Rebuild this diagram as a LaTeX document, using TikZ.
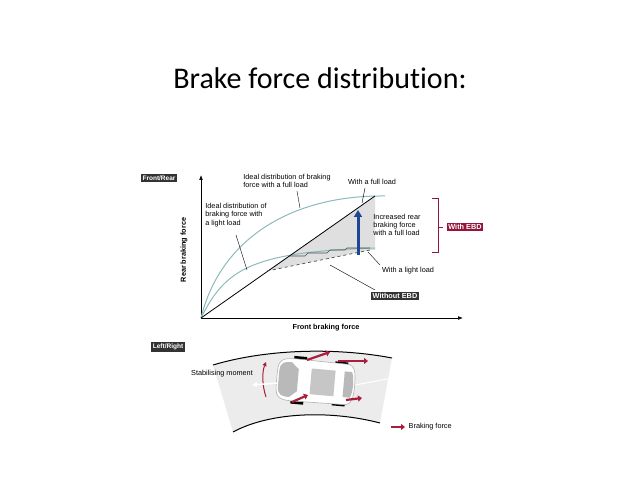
\documentclass[tikz,border=0pt]{standalone}
\usepackage{fontspec}
\setmainfont{Carlito}[Ligatures=NoCommon]
\newfontfamily\lab{Liberation Sans}
\usetikzlibrary{arrows.meta}
\definecolor{curve}{RGB}{140,185,185}
\definecolor{ebd}{RGB}{150,20,60}
\definecolor{brk}{RGB}{170,30,60}
\definecolor{blu}{RGB}{30,70,150}
\begin{document}
\begin{tikzpicture}[x=1pt,y=-1pt,
  lbl/.style={font=\lab\fontsize{7.3}{8.3}\selectfont,align=left,inner sep=0.5pt},
  tag/.style={font=\lab\bfseries\fontsize{6.5}{7.5}\selectfont,fill=black!80,text=white,inner sep=1.5pt},
  ptr/.style={draw=black,line width=0.4pt},
  redarr/.style={draw=brk,line width=2.2pt,-{Triangle[length=4pt,width=6pt]}}]
\useasboundingbox (0,0) rectangle (638,478);
\node (title) at (320,78) {\fontsize{30}{34}\selectfont Brake force distribution:};
% graph
\coordinate (O) at (201,318);
\fill[gray!25] (267,271) -- (375,196) -- (375,250) -- (370,250) -- cycle;
\draw[-{Latex[length=5pt]},line width=0.6pt] (O) -- (201,175) coordinate (ytop);
\draw[-{Latex[length=5pt]},line width=0.6pt] (O) -- (463,318) coordinate (xend);
\draw[curve,line width=1pt] (O) .. controls (220,240) and (290,195) .. (385,196);
\draw[curve,line width=1pt] (O) .. controls (225,270) and (250,252) .. (375,248);
\draw[line width=0.8pt] (O) -- (375,196);
\draw[dashed,line width=0.7pt,black!70] (267,271) -- (370,250);
\draw[black!70,line width=0.7pt] (290,256) -- (305,256) -- (308,253) -- (327,253) -- (330,250) -- (345,250) -- (347,248) -- (370,248);
\draw[blu,line width=3pt,-{Triangle[length=7pt,width=8pt]}] (358,255) -- (358,210);
\node[tag] (fr) at (159,178) {Front/Rear};
\node[font=\lab\bfseries\fontsize{7.3}{8.3}\selectfont,rotate=90] (rbf) at (184,250) {Rear braking force};
\node[font=\lab\bfseries\fontsize{7.3}{8.3}\selectfont] (fbf) at (326,328) {Front braking force};
\node[lbl] (l1) at (287,181) {Ideal distribution of braking\\force with a full load};
\draw[ptr] (297,191) -- (300,208);
\node[lbl] (l2) at (372,182) {With a full load};
\draw[ptr] (365,188) -- (362,203);
\node[lbl] (l3) at (236,215) {Ideal distribution of\\braking force with\\a light load};
\draw[ptr] (236,235) -- (247,270);
\node[lbl] (l4) at (397,225) {Increased rear\\braking force\\with a full load};
\draw[ebd,line width=0.5pt] (432,198) -- (438,198) -- (438,252) -- (432,252);
\draw[ebd,line width=0.5pt] (438,227) -- (443,227);
\node[font=\lab\bfseries\fontsize{7.3}{8.3}\selectfont,fill=ebd,text=white,inner sep=1.5pt] (ebdn) at (465,227) {With EBD};
\node[lbl] (l5) at (408,271) {With a light load};
\draw[ptr] (380,265) -- (368,252);
\node[tag,font=\lab\bfseries\fontsize{7.3}{8.3}\selectfont] (wo) at (395,296) {Without EBD};
\draw[ptr] (375,290) -- (330,265);
% road
\node[tag] (lr) at (168,347) {Left/Right};
\fill[gray!15] (213,365) .. controls (270,348) and (340,348) .. (392,358) -- (380,423) .. controls (330,410) and (270,412) .. (233,432) -- cycle;
\draw[line width=1pt] (213,365) .. controls (270,348) and (340,348) .. (392,358);
\draw[line width=1pt] (233,432) .. controls (270,412) and (330,410) .. (380,423);
\draw[white,line width=1pt] (355,385) -- (392,378);
% car
\begin{scope}[shift={(318,382)},rotate=-5,scale=0.92]
\fill[black] (-28,-26) rectangle (-14,-19);
\fill[black] (-28,19) rectangle (-14,26);
\fill[black] (17,-24) rectangle (31,-18);
\fill[black] (17,18) rectangle (31,24);
\draw[gray!60,fill=white,line width=0.6pt] (-45,-8) .. controls (-45,-22) and (-38,-23) .. (-25,-23) -- (30,-22) .. controls (38,-22) and (40,-15) .. (40,0) .. controls (40,15) and (38,22) .. (30,22) -- (-25,23) .. controls (-38,23) and (-45,22) .. (-45,8) -- cycle;
\fill[gray!55] (-43,-8) .. controls (-43,-18) and (-38,-19) .. (-30,-19) -- (-22,-12) -- (-22,12) -- (-30,19) .. controls (-38,19) and (-43,18) .. (-43,8) -- cycle;
\fill[gray!45] (-8,-14) rectangle (18,14);
\fill[gray!55] (28,-14) -- (36,-14) .. controls (39,-8) and (39,8) .. (36,14) -- (28,14) -- cycle;
\end{scope}
\draw[redarr] (307,360) -- (330,352);
\draw[redarr] (338,361) -- (368,361);
\draw[redarr] (292,402) -- (308,395);
\draw[redarr] (346,400) -- (362,398);
\draw[brk,line width=1pt,-{Triangle[length=4pt,width=4pt]}] (266,397) .. controls (262,385) and (262,372) .. (266,362);
\draw[white,line width=1.5pt,-{Triangle[length=5pt,width=5pt]}] (278,383) -- (252,385);
\node[lbl] (sm) at (222,374) {Stabilising moment};
\draw[redarr] (391,427) -- (405,427);
\node[lbl,anchor=west] (bf) at (408,427) {Braking force};
\end{tikzpicture}
\end{document}
